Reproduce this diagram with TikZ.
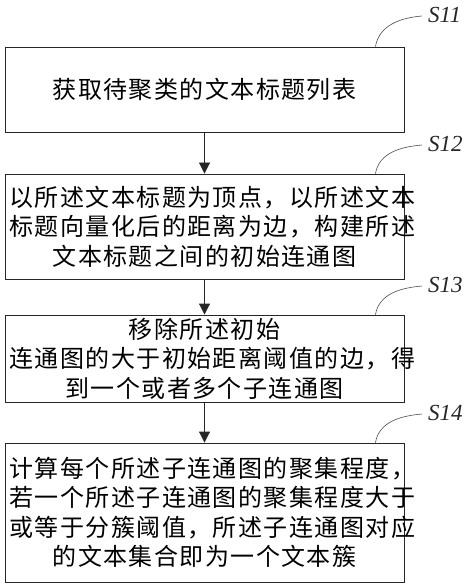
\documentclass[tikz,border=0pt]{standalone}
\usepackage{fontspec}
\setmainfont{Liberation Serif}
\newfontfamily\cjk{Noto Sans CJK SC}[LetterSpace=6]
\usepackage{tikz}
\usetikzlibrary{arrows.meta}

\tikzset{
  stepbox/.style={draw=black!85, line width=0.9pt, inner sep=0pt, minimum width=399pt,
    text width=390pt, align=center, font=\cjk\fontsize{24}{29.5}\selectfont},
  flow/.style={draw=black!85, line width=0.9pt, -{Triangle[length=11pt,width=11pt]}},
  leader/.style={draw=black!70, line width=0.6pt},
  steplabel/.style={anchor=west, inner sep=0pt, font=\fontsize{23}{23}\selectfont\itshape, text=black!85}
}

\begin{document}
\begin{tikzpicture}[x=1pt, y=1pt]
  \useasboundingbox (0,0) rectangle (474,-588);

  % step boxes
  \node[stepbox, minimum height=85pt] (s11) at (204.5,-89.5) {获取待聚类的文本标题列表};
  \node[stepbox, minimum height=105pt] (s12) at (204.5,-226.5)
    {以所述文本标题为顶点，以所述文本\\标题向量化后的距离为边，构建所述\\文本标题之间的初始连通图};
  \node[stepbox, minimum height=87pt] (s13) at (204.5,-358.5)
    {移除所述初始\\连通图的大于初始距离阈值的边，得\\到一个或者多个子连通图};
  \node[stepbox, minimum height=139pt] (s14) at (204.5,-512.5)
    {计算每个所述子连通图的聚集程度，\\若一个所述子连通图的聚集程度大于\\或等于分簇阈值，所述子连通图对应\\的文本集合即为一个文本簇};

  % arrows
  \draw[flow] (s11) -- (s12);
  \draw[flow] (s12) -- (s13);
  \draw[flow] (s13) -- (s14);

  % step labels
  \node[steplabel] (l11) at (428,-15) {S11};
  \node[steplabel] (l12) at (428,-144) {S12};
  \node[steplabel] (l13) at (428,-285) {S13};
  \node[steplabel] (l14) at (428,-413) {S14};

  \draw[leader] ([xshift=-29pt]s11.north east) to[out=80, in=185] ([xshift=-6pt,yshift=-1pt]l11.west);
  \draw[leader] ([xshift=-29pt]s12.north east) to[out=80, in=185] ([xshift=-6pt,yshift=-1pt]l12.west);
  \draw[leader] ([xshift=-29pt]s13.north east) to[out=80, in=185] ([xshift=-6pt,yshift=-1pt]l13.west);
  \draw[leader] ([xshift=-29pt]s14.north east) to[out=80, in=185] ([xshift=-6pt,yshift=-1pt]l14.west);
\end{tikzpicture}
\end{document}
